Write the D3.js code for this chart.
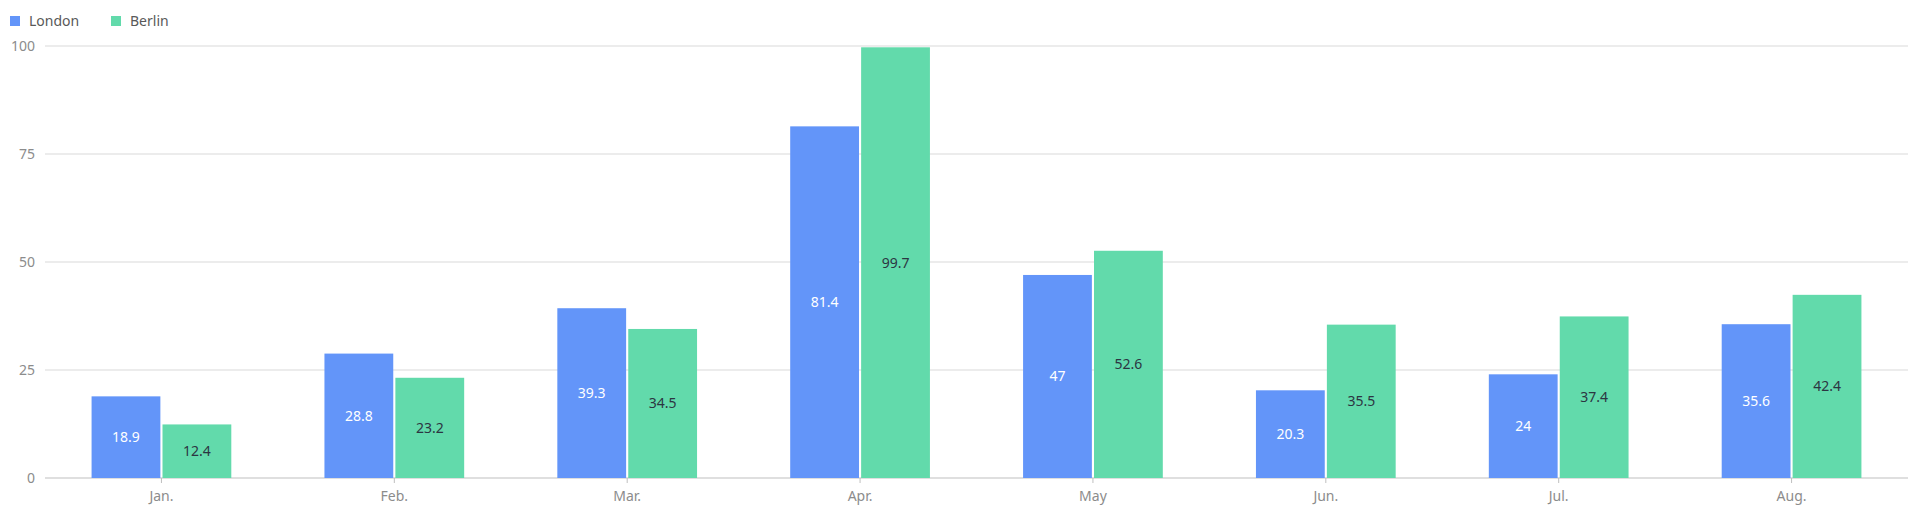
<!DOCTYPE html>
<meta charset="utf-8">
<script src="https://d3js.org/d3.v7.min.js"></script>
<style>body{margin:0;background:#fff}</style>
<div id="chart"></div>
<script>
// data
const months = ["Jan.", "Feb.", "Mar.", "Apr.", "May", "Jun.", "Jul.", "Aug."];
const seriesNames = ["London", "Berlin"];
const london = [18.9, 28.8, 39.3, 81.4, 47, 20.3, 24, 35.6];
const berlin = [12.4, 23.2, 34.5, 99.7, 52.6, 35.5, 37.4, 42.4];
const yTicks = [0, 25, 50, 75, 100];

const colors = ["#6395f9", "#62daab"];
const labelColors = ["#fff", "#2c3542"];
const W = 1918, H = 530;
const margin = {top: 46, right: 10, bottom: 52, left: 45};
const width = W - margin.left - margin.right, height = H - margin.top - margin.bottom;
const font = "'Noto Sans', 'Open Sans', sans-serif";

const svg = d3.select("#chart").append("svg").attr("width", W).attr("height", H)
  .style("font-family", font);
const g = svg.append("g").attr("transform", `translate(${margin.left},${margin.top})`);

const x = d3.scaleBand().domain(months).range([0, width]).paddingInner(0.4).paddingOuter(0.2);
const xs = d3.scaleBand().domain(seriesNames).range([0, x.bandwidth()]).paddingInner(0.03);
const y = d3.scaleLinear().domain([0, 100]).range([height, 0]);

// grid + y labels
g.selectAll(".grid").data(yTicks).join("line")
  .attr("x1", 0).attr("x2", width).attr("y1", d => y(d)).attr("y2", d => y(d))
  .attr("stroke", d => d === 0 ? "#bfbfbf" : "#d9d9d9");
g.selectAll(".ylab").data(yTicks).join("text")
  .attr("x", -10).attr("y", d => y(d)).attr("dy", "0.35em")
  .attr("text-anchor", "end").attr("fill", "#8c8c8c").attr("font-size", 14).text(d => d);

// x axis
const xa = g.append("g").attr("transform", `translate(0,${height})`)
  .call(d3.axisBottom(x).tickSize(5).tickSizeOuter(0));
xa.select(".domain").remove();
xa.selectAll("line").attr("stroke", "#bfbfbf");
xa.selectAll("text").attr("fill", "#8c8c8c").attr("font-size", 14).attr("dy", "1.1em")
  .style("font-family", font);

const rows = months.map((m, i) => ({m, v: [london[i], berlin[i]]}));
seriesNames.forEach((s, k) => {
  const bars = g.append("g");
  bars.selectAll("rect").data(rows).join("rect")
    .attr("x", d => x(d.m) + xs(s)).attr("width", xs.bandwidth())
    .attr("y", d => y(d.v[k])).attr("height", d => height - y(d.v[k]))
    .attr("fill", colors[k]);
  bars.selectAll("text").data(rows).join("text")
    .attr("x", d => x(d.m) + xs(s) + xs.bandwidth() / 2)
    .attr("y", d => (y(d.v[k]) + height) / 2).attr("dy", "0.35em")
    .attr("text-anchor", "middle").attr("font-size", 14).attr("fill", labelColors[k])
    .text(d => d.v[k]);
});

// legend
const lg = svg.append("g").attr("transform", "translate(10,21)");
seriesNames.forEach((s, k) => {
  const it = lg.append("g").attr("transform", `translate(${k * 101},0)`);
  it.append("rect").attr("x", 0).attr("y", -5).attr("width", 10).attr("height", 10).attr("fill", colors[k]);
  it.append("text").attr("x", 19).attr("y", 0).attr("dy", "0.35em")
    .attr("font-size", 14).attr("fill", "#595959").text(s);
});
</script>
